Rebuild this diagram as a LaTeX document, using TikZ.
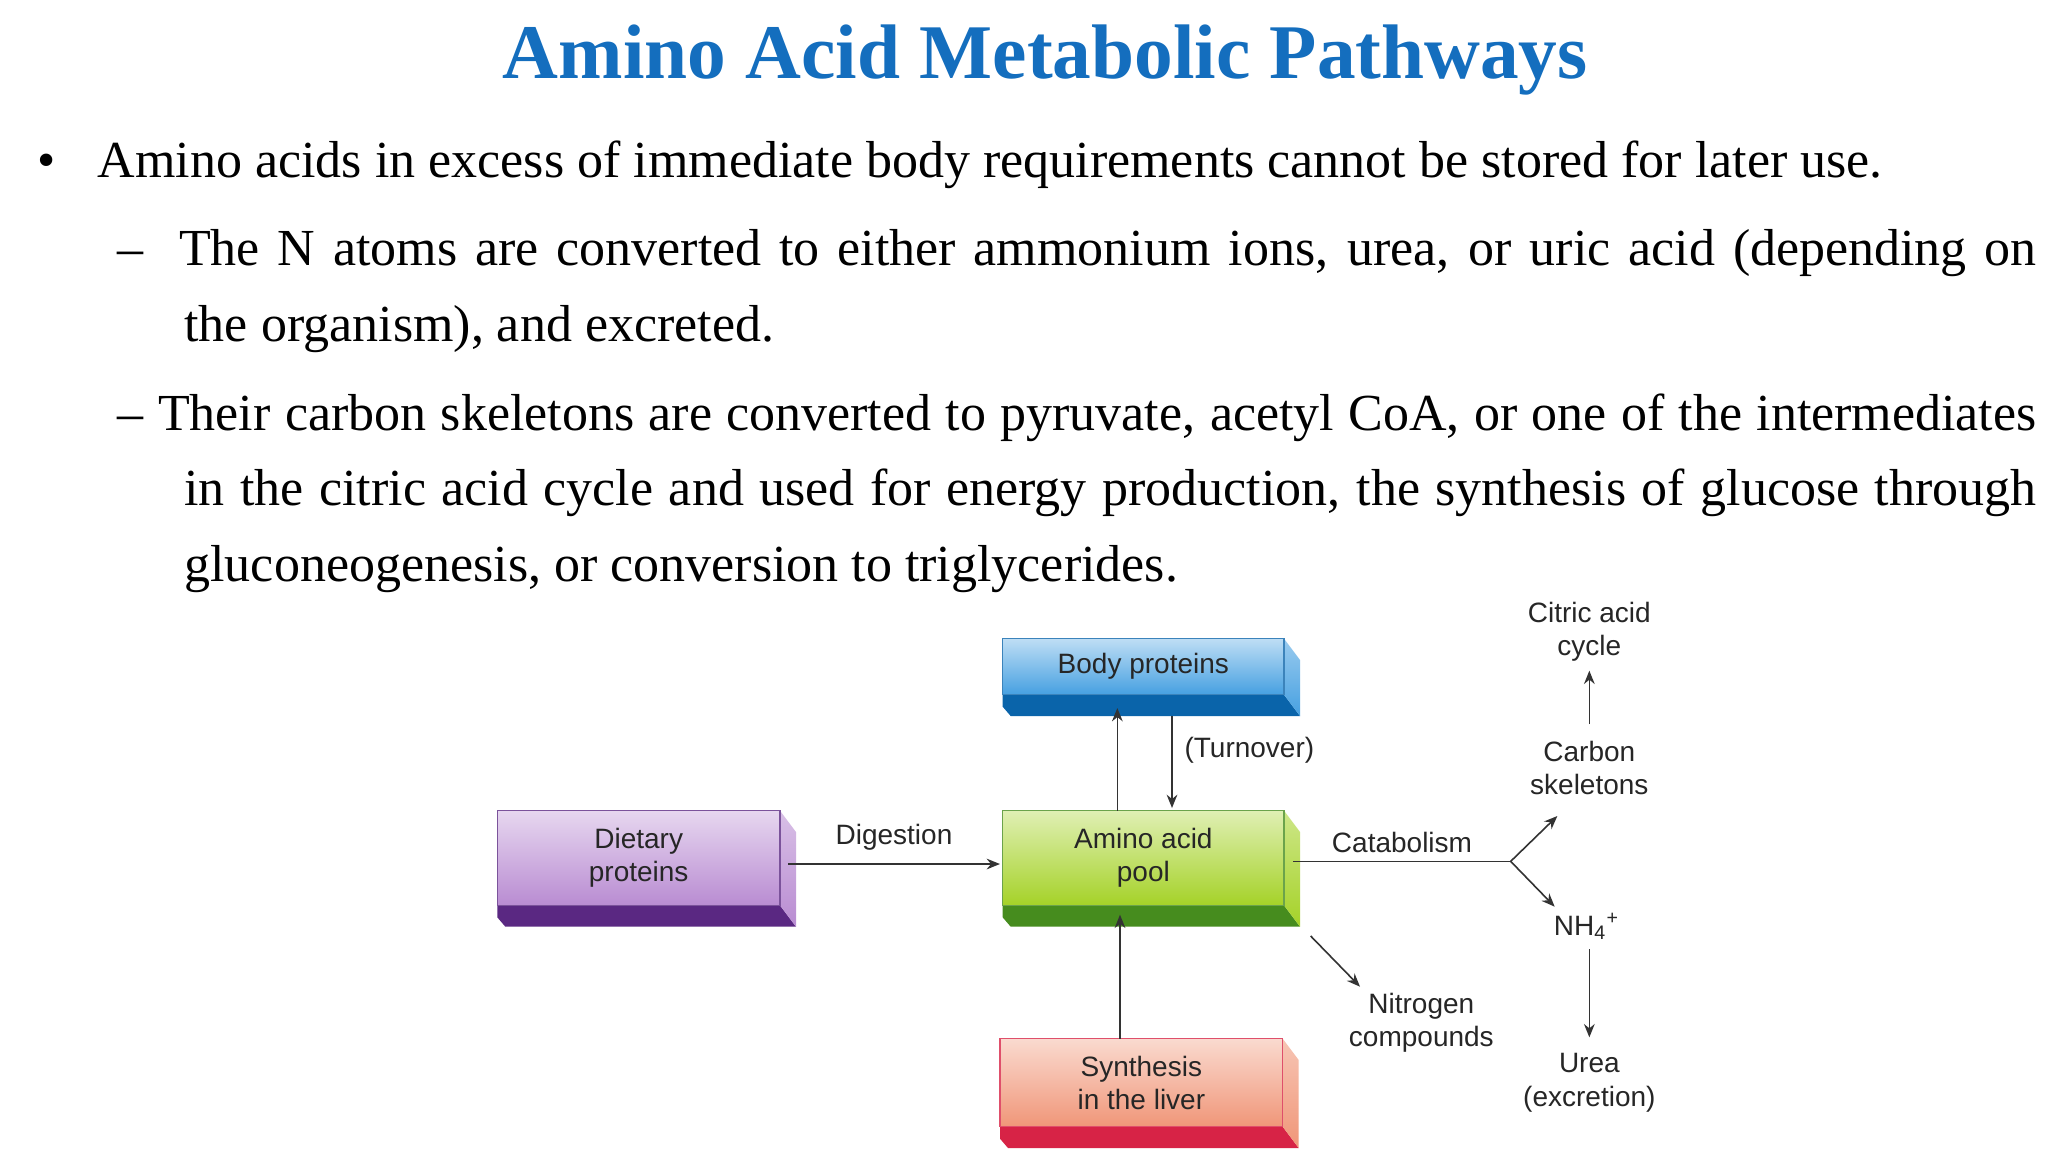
\documentclass[tikz,border=0pt]{standalone}
\usepackage{fontspec}
\setmainfont{Liberation Serif}
\newfontfamily\diag{Liberation Sans}
\usetikzlibrary{arrows.meta}
\definecolor{ttl}{RGB}{20,110,190}
\definecolor{bluem}{RGB}{70,160,225}\definecolor{blued}{RGB}{10,100,170}
\definecolor{purm}{RGB}{185,140,210}\definecolor{purd}{RGB}{90,40,130}
\definecolor{grnm}{RGB}{165,210,40}\definecolor{grnd}{RGB}{70,140,30}
\definecolor{salm}{RGB}{240,150,120}\definecolor{sald}{RGB}{215,35,70}
\tikzset{
 txt/.style={anchor=base west,inner sep=0pt,font=\fontsize{19.5}{21}\selectfont},
 lab/.style={font=\diag\fontsize{10.5}{12.5}\selectfont,align=center,inner sep=1pt,text=black!85},
 arr/.style={-{Stealth[length=5pt,width=4pt]},line width=0.6pt,black!80},
 ln/.style={line width=0.6pt,black!80}
}
\newcommand{\prism}[8]{% name,x1,y1,x2,y2,midcol,darkcol,label
 \fill[#7] (#2,#5)--(#4,#5)--(#4+12,#5+16)--(#2+6,#5+16)--(#2,#5+9)--cycle;
 \shade[top color=#6!55!white,bottom color=#6] (#4,#3)--(#4+12,#3+16)--(#4+12,#5+16)--(#4,#5)--cycle;
 \shade[top color=#6!35!white,bottom color=#6,draw=#7!80,line width=0.4pt] (#2,#3) rectangle (#4,#5);
 \node[lab] (#1) at ({(#2+#4)/2},{(#3+#5)/2}) {#8};
}
\begin{document}
\begin{tikzpicture}[x=0.5pt,y=-0.5pt]
\useasboundingbox[fill=white] (0,0) rectangle (1536,864);
\node[font=\bfseries\fontsize{29}{31}\selectfont,text=ttl,inner sep=0] (title) at (784,45) {Amino Acid Metabolic Pathways};
\node[txt] (b0) at (28,133) {•};
\node[txt] (b1) at (73,133) {Amino acids in excess of immediate body requirements cannot be stored for later use.};
\node[txt] (d1) at (88,199) {–};
\node[txt] (l1) at (134,199) {\makebox[696.5pt][s]{The N atoms are converted to either ammonium ions, urea, or uric acid (depending on}};
\node[txt] (l2) at (138,256) {the organism), and excreted.};
\node[txt] (l3) at (88,323) {\makebox[719.5pt][s]{– Their carbon skeletons are converted to pyruvate, acetyl CoA, or one of the intermediates}};
\node[txt] (l4) at (138,379) {\makebox[694.5pt][s]{in the citric acid cycle and used for energy production, the synthesis of glucose through}};
\node[txt] (l5) at (138,436) {gluconeogenesis, or conversion to triglycerides.};

\prism{body}{752}{479}{963}{521}{bluem}{blued}{Body proteins}
\prism{diet}{373}{608}{585}{679}{purm}{purd}{Dietary\\proteins}
\prism{pool}{752}{608}{963}{679}{grnm}{grnd}{Amino acid\\pool}
\prism{syn}{750}{779}{962}{845}{salm}{sald}{Synthesis\\in the liver}

\coordinate (dg1) at (591,648); \coordinate (dg2) at (750,648);
\draw[arr] (dg1) -- (dg2) node[lab,midway,above=4pt] (dig) {Digestion};
\coordinate (u1) at (838,608); \coordinate (u2) at (838,531);
\draw[arr] (u1) -- (u2);
\coordinate (t1) at (879,537); \coordinate (t2) at (879,606);
\draw[arr] (t1) -- (t2);
\node[lab,anchor=west] (turn) at (886,563) {(Turnover)};
\coordinate (s1) at (840,779); \coordinate (s2) at (840,686);
\draw[arr] (s1) -- (s2);
\coordinate (c1) at (970,646); \coordinate (c2) at (1133,646);
\draw[ln] (c1) -- (c2) node[lab,midway,above=2pt] (cat) {Catabolism};
\node[lab] (carb) at (1192,576) {Carbon\\skeletons};
\node[lab] (cit) at (1192,474) {Citric acid\\cycle};
\node[lab] (nh) at (1190,695) {NH\textsubscript{4}\textsuperscript{+}};
\node[lab] (urea) at (1192,812) {Urea\\(excretion)};
\node[lab] (nit) at (1066,767) {Nitrogen\\compounds};
\coordinate (br1) at (1168,612); \coordinate (br2) at (1166,680);
\draw[arr] (c2) -- (br1);
\draw[arr] (c2) -- (br2);
\coordinate (a1) at (1192,543); \coordinate (a2) at (1192,503);
\draw[arr] (a1) -- (a2);
\coordinate (a3) at (1192,712); \coordinate (a4) at (1192,778);
\draw[arr] (a3) -- (a4);
\coordinate (n1) at (983,702); \coordinate (n2) at (1020,740);
\draw[arr] (n1) -- (n2);
\end{tikzpicture}
\end{document}
